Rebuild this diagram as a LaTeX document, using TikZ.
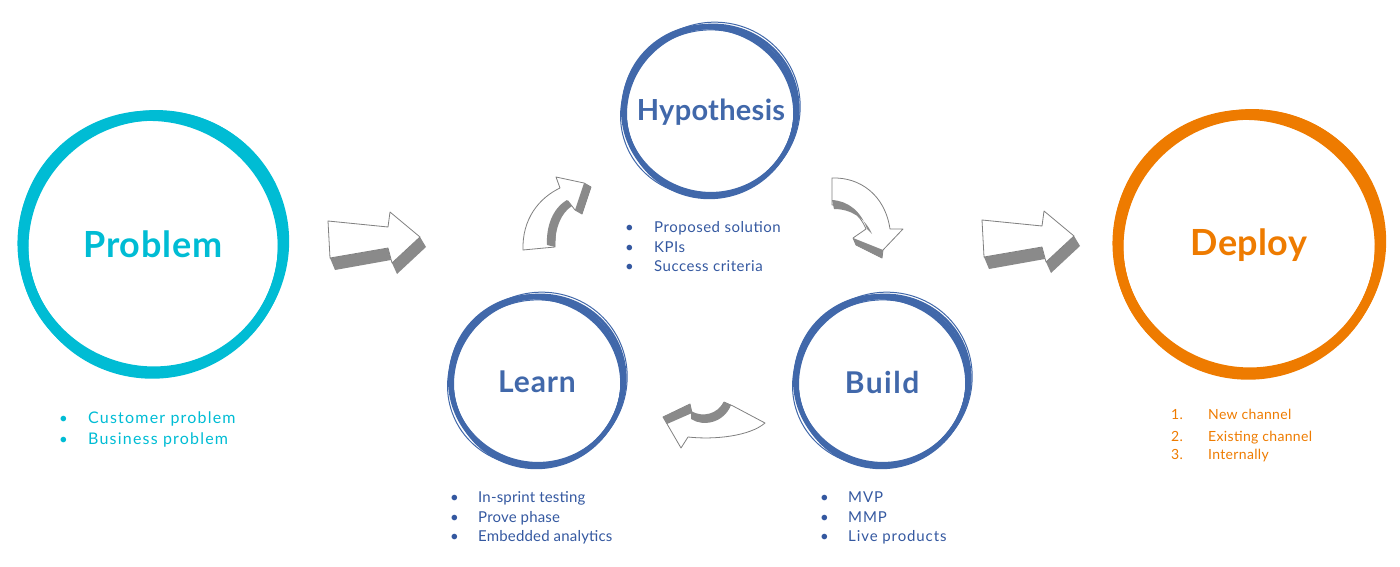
\documentclass[tikz,border=0pt]{standalone}
\usepackage{fontspec}
\setmainfont{Lato}
\definecolor{cyanc}{HTML}{00BCD4}
\definecolor{bluec}{HTML}{4168AA}
\definecolor{listblue}{HTML}{3458A0}
\definecolor{orangec}{HTML}{EE7B00}
\definecolor{arrowgray}{HTML}{8A8A8A}
\definecolor{outlinegray}{HTML}{808080}
\newcommand{\sketchring}[5]{%
  \foreach \a/\b/\c/\d/\e in {0/0/0/0/0, 1.6/-1.2/1.8/-0.6/20, -1.4/1.1/-1.2/1.4/70, 0.9/1.6/-0.6/1.1/130, -0.8/-1.5/1.2/-1.4/160}
    \draw[#4, line width=#5] ({#1+\a},{#2+\b}) ellipse [x radius={#3+\c}, y radius={#3+\d}, rotate=\e];
  \foreach \a/\b/\c/\d/\e in {2.5/-2/3.5/1/35, -2.5/2/-2.5/2.5/110}
    \draw[#4, line width=1pt] ({#1+\a},{#2+\b}) ellipse [x radius={#3+\c}, y radius={#3+\d}, rotate=\e];
}
\tikzset{
  title/.style 2 args={font=\bfseries\fontsize{#1}{#1}\selectfont\addfontfeatures{LetterSpace=#2}},
  item/.style 2 args={anchor=base west, inner sep=0pt, font=\fontsize{#1}{#1}\selectfont\addfontfeatures{LetterSpace=#2}},
  bul/.style={anchor=base west, inner sep=0pt, font=\fontsize{15}{15}\selectfont},
  facestyle/.style={fill=white, draw=outlinegray, line width=0.8pt, line join=round},
  shadestyle/.style={fill=arrowgray, draw=none}
}
\begin{document}
\begin{tikzpicture}[x=1pt,y=-1pt]
\useasboundingbox (0,0) rectangle (1400,567);

% ---- circles ----
\sketchring{153}{244}{129}{cyanc}{8}
\sketchring{710}{111}{85}{bluec}{3}
\sketchring{537}{381}{85}{bluec}{3}
\sketchring{882}{381}{85}{bluec}{3}
\sketchring{1249}{244}{130}{orangec}{8}

\node[title={36}{2}, text=cyanc] (problem) at (153,244) {Problem};
\node[title={29}{1}, text=bluec] (hypothesis) at (711,112) {Hypothesis};
\node[title={30}{3}, text=bluec] (learn) at (537,382) {Learn};
\node[title={30}{5}, text=bluec] (build) at (882,382) {Build};
\node[title={36}{1}, text=orangec] (deploy) at (1249,245) {Deploy};

% ---- lists ----
\begin{scope}[text=cyanc]
\node[bul] (p1b) at (59,423) {\textbullet};
\node[item={16}{7.5}] (p1) at (88,423) {Customer problem};
\node[bul] (p2b) at (59,444) {\textbullet};
\node[item={16}{7.5}] (p2) at (88,444) {Business problem};
\end{scope}

\begin{scope}[text=listblue]
\node[bul] (h1b) at (625,232) {\textbullet};
\node[item={15}{3.5}] (h1) at (654,232) {Proposed solution};
\node[bul] (h2b) at (625,252) {\textbullet};
\node[item={15}{3.5}] (h2) at (654,252) {KPIs};
\node[bul] (h3b) at (625,271) {\textbullet};
\node[item={15}{3.5}] (h3) at (654,271) {Success criteria};

\node[bul] (l1b) at (450,502) {\textbullet};
\node[item={15}{1.2}] (l1) at (478,502) {In-sprint testing};
\node[bul] (l2b) at (450,522) {\textbullet};
\node[item={15}{1.2}] (l2) at (478,522) {Prove phase};
\node[bul] (l3b) at (450,541) {\textbullet};
\node[item={15}{1.2}] (l3) at (478,541) {Embedded analytics};

\node[bul] (b1b) at (820,502) {\textbullet};
\node[item={15}{6}] (b1) at (848,502) {MVP};
\node[bul] (b2b) at (820,522) {\textbullet};
\node[item={15}{6}] (b2) at (848,522) {MMP};
\node[bul] (b3b) at (820,541) {\textbullet};
\node[item={15}{6}] (b3) at (848,541) {Live products};
\end{scope}

\begin{scope}[text=orangec]
\node[item={14}{2.4}] (d1n) at (1171,419) {1.};
\node[item={14}{2.4}] (d1) at (1208,419) {New channel};
\node[item={14}{2.4}] (d2n) at (1171,441) {2.};
\node[item={14}{2.4}] (d2) at (1208,441) {Existing channel};
\node[item={14}{2.4}] (d3n) at (1171,459) {3.};
\node[item={14}{2.4}] (d3) at (1208,459) {Internally};
\end{scope}

% ---- big block arrows ----
\foreach \sx/\sy in {0/0, 654/-1} {
  \begin{scope}[shift={(\sx,\sy)}]
    \fill[shadestyle] (330,258) -- (388,248) -- (391,260) -- (335,270) -- cycle;
    \fill[shadestyle] (392,263) -- (420,237) -- (426,247) -- (397,274) -- cycle;
    \draw[facestyle] (328,221) -- (388,227) -- (390,212) -- (420,237) -- (392,263) -- (388,248) -- (330,258) -- cycle;
  \end{scope}
}

% ---- curved arrow: Learn -> Hypothesis ----
\draw[facestyle] (523,250) .. controls (522,219) and (539,198) .. (560,188) -- (556,177) -- (584,183) -- (591,187) -- (582,214) -- (575,210) -- (568,201) .. controls (557,210) and (555,228) .. (555,247) -- cycle;
\fill[shadestyle] (547,245) .. controls (546,226) and (553,208) .. (567,200) -- (572,206) .. controls (561,213) and (555,228) .. (555,247) -- cycle;
\fill[shadestyle] (575,210) -- (584,183) -- (591,187) -- (582,214) -- cycle;

% ---- curved arrow: Hypothesis -> Build ----
\draw[facestyle] (832,178) .. controls (860,177) and (885,195) .. (890,229) -- (903,229) -- (883,250) -- (882,258) -- (856,245) -- (853,238) -- (866,229) .. controls (860,214) and (848,205) .. (832,205) -- cycle;
\fill[shadestyle] (832,200) .. controls (848,201) and (861,211) .. (867,229) -- (872,234) .. controls (865,218) and (851,209) .. (834,209) -- cycle;
\fill[shadestyle] (853,238) -- (883,250) -- (882,258) -- (856,245) -- cycle;

% ---- curved arrow: Build -> Learn ----
\draw[facestyle] (663,417) -- (690,404) -- (692,413) .. controls (703,420) and (717,416) .. (724,402) -- (733,406) -- (765,423) .. controls (750,436) and (715,440) .. (688,437) -- (681,448) -- cycle;
\fill[shadestyle] (663,417) -- (690,404) -- (692,413) -- (667,424) -- cycle;
\fill[shadestyle] (691,411) .. controls (703,418) and (717,414) .. (724,402) -- (731,405) .. controls (724,423) and (703,427) .. (691,419) -- cycle;

\end{tikzpicture}
\end{document}
